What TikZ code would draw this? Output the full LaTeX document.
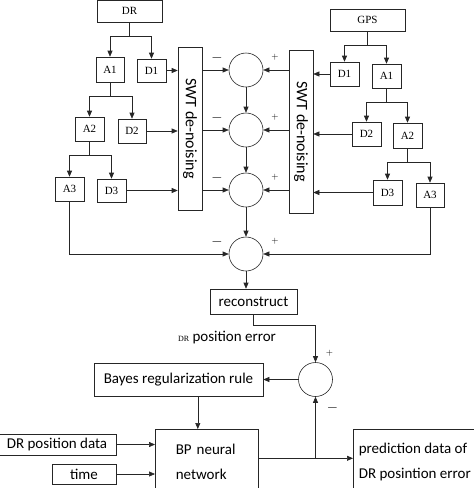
\documentclass[tikz,border=0pt]{standalone}
\usepackage{fontspec}
\setmainfont{Liberation Serif}
\newfontfamily\calibri{Carlito}
\usetikzlibrary{arrows.meta}
\usetikzlibrary{calc}

\tikzset{
    line/.style={line width=0.6pt, draw=black!85},
    arr/.style={line, -{Triangle[length=6pt, width=5pt]}},
    box/.style={line, rectangle, inner sep=0pt, font=\fontsize{11}{11}\selectfont},
    swtbox/.style={box, minimum width=24, minimum height=163, font=\calibri\fontsize{16}{16}\selectfont},
    txtbox/.style={box, font=\calibri\fontsize{15}{15}\selectfont},
    sumnode/.style={line, circle, minimum size=34, inner sep=0pt},
    minus/.style={inner sep=0pt, font=\fontsize{14}{14}\selectfont},
    plus/.style={inner sep=0pt, font=\fontsize{9}{9}\selectfont},
}

\begin{document}
\begin{tikzpicture}[x=1pt, y=-1pt]
        \useasboundingbox (0,0) rectangle (474,488);
        \clip (0,0) rectangle (474,488);

        % DR side
        \node[box, minimum width=65, minimum height=22] (dr) at (129.5,11) {DR};
        \node[box, minimum width=28, minimum height=25] (lA1) at (110,69.5) {A1};
        \node[box, minimum width=29, minimum height=23] (lD1) at (151.5,70.5) {D1};
        \node[box, minimum width=29, minimum height=24] (lA2) at (89.5,129) {A2};
        \node[box, minimum width=28, minimum height=24] (lD2) at (132,131) {D2};
        \node[box, minimum width=29, minimum height=24] (lA3) at (69.5,189) {A3};
        \node[box, minimum width=29, minimum height=23] (lD3) at (111.5,190.5) {D3};
        \node[swtbox] (swtl) at (190,128.5) {\rotatebox{-90}{SWT de-noising}};

        % GPS side
        \node[box, minimum width=75, minimum height=22] (gps) at (367.5,20) {GPS};
        \node[box, minimum width=29, minimum height=24] (rD1) at (344.5,74) {D1};
        \node[box, minimum width=29, minimum height=24] (rA1) at (386.5,76) {A1};
        \node[box, minimum width=29, minimum height=24] (rD2) at (366.5,134) {D2};
        \node[box, minimum width=29, minimum height=25] (rA2) at (407.5,135.5) {A2};
        \node[box, minimum width=29, minimum height=25] (rD3) at (387.5,192.5) {D3};
        \node[box, minimum width=28, minimum height=24] (rA3) at (430,195) {A3};
        \node[swtbox] (swtr) at (301,131.5) {\rotatebox{-90}{SWT de-noising}};

        % summing points
        \node[sumnode] (sum1) at (246,70) {};
        \node[sumnode] (sum2) at (246,130) {};
        \node[sumnode] (sum3) at (246,190) {};
        \node[sumnode] (sum4) at (246,254) {};
        \node[sumnode] (sum5) at (315.5,379.5) {};
        \foreach \s in {1,...,4} {
            \node[minus] (m\s) at ([shift={(-29pt,12pt)}]sum\s) {$-$};
            \node[plus] (p\s) at ([shift={(29pt,13pt)}]sum\s) {$+$};
        }
        \node[plus] (p5) at ([shift={(14pt,26pt)}]sum5) {$+$};
        \node[minus] (m5) at ([shift={(17pt,-28pt)}]sum5) {$-$};

        % lower part
        \node[txtbox, minimum width=87, minimum height=25] (rec) at (253.5,301.5) {reconstruct};
        \node[inner sep=0pt, font=\calibri\fontsize{15}{15}\selectfont] (errlbl) at (227,338)
            {{\rmfamily\fontsize{8}{8}\selectfont DR} position error};
        \node[txtbox, minimum width=169, minimum height=33] (bayes) at (178.5,379.5) {Bayes regularization rule};
        \node[txtbox, minimum width=103, minimum height=66, anchor=north west, align=left,
            text width=62, font=\calibri\fontsize{15}{25}\selectfont] (bp) at (155,429) {BP neural\\network};
        \node[txtbox, minimum width=123, minimum height=66, anchor=north west, align=left,
            font=\calibri\fontsize{15}{25}\selectfont] (pred) at (353,429)
            {prediction data of\\DR posintion error};
        \node[txtbox, minimum width=118, minimum height=21] (posdata) at (57,444.5) {DR position data};
        \node[txtbox, minimum width=64, minimum height=20] (time) at (84,474) {time};

        % wavelet splits
        \foreach \p/\a/\d in {dr/lA1/lD1, lA1/lA2/lD2, lA2/lA3/lD3, gps/rA1/rD1, rA1/rA2/rD2, rA2/rA3/rD3} {
            \draw[line] (\p.south) -- ++(0,14) coordinate (c\p);
            \draw[arr] (c\p) -| (\a.north);
            \draw[arr] (c\p) -| (\d.north);
        }

        % details into de-noising, then into the sums
        \foreach \d/\s in {lD1/sum1, lD2/sum2, lD3/sum3} {
            \draw[arr] (\d.east) -- (\d.east -| swtl.west);
            \draw[arr] (\s.west -| swtl.east) -- (\s.west);
        }
        \foreach \d/\s in {rD1/sum1, rD2/sum2, rD3/sum3} {
            \draw[arr] (\d.west) -- (\d.west -| swtr.east);
            \draw[arr] (\s.east -| swtr.west) -- (\s.east);
        }
        \draw[arr] (sum1) -- (sum2);
        \draw[arr] (sum2) -- (sum3);
        \draw[arr] (sum3) -- (sum4);
        \draw[arr] (lA3.south) |- (sum4.west);
        \draw[arr] (rA3.south) |- (sum4.east);
        \draw[arr] (sum4.south) -- (sum4.south |- rec.north);

        % error loop
        \draw[arr] (rec.south) -- ++(0,11) -| (sum5.north);
        \draw[arr] (sum5) -- (bayes);
        \draw[arr] ([xshift=-9pt]bp.north |- bayes.south) -- ([xshift=-9pt]bp.north);
        \draw[arr] (posdata) -- (posdata -| bp.west);
        \draw[arr] (time) -- (time -| bp.west);
        \draw[arr] ([yshift=4pt]bp.east) -- ([yshift=4pt]bp.east -| pred.west);
        \draw[arr] ([yshift=4pt]bp.east -| sum5.south) -- (sum5.south);
    \end{tikzpicture}
\end{document}
